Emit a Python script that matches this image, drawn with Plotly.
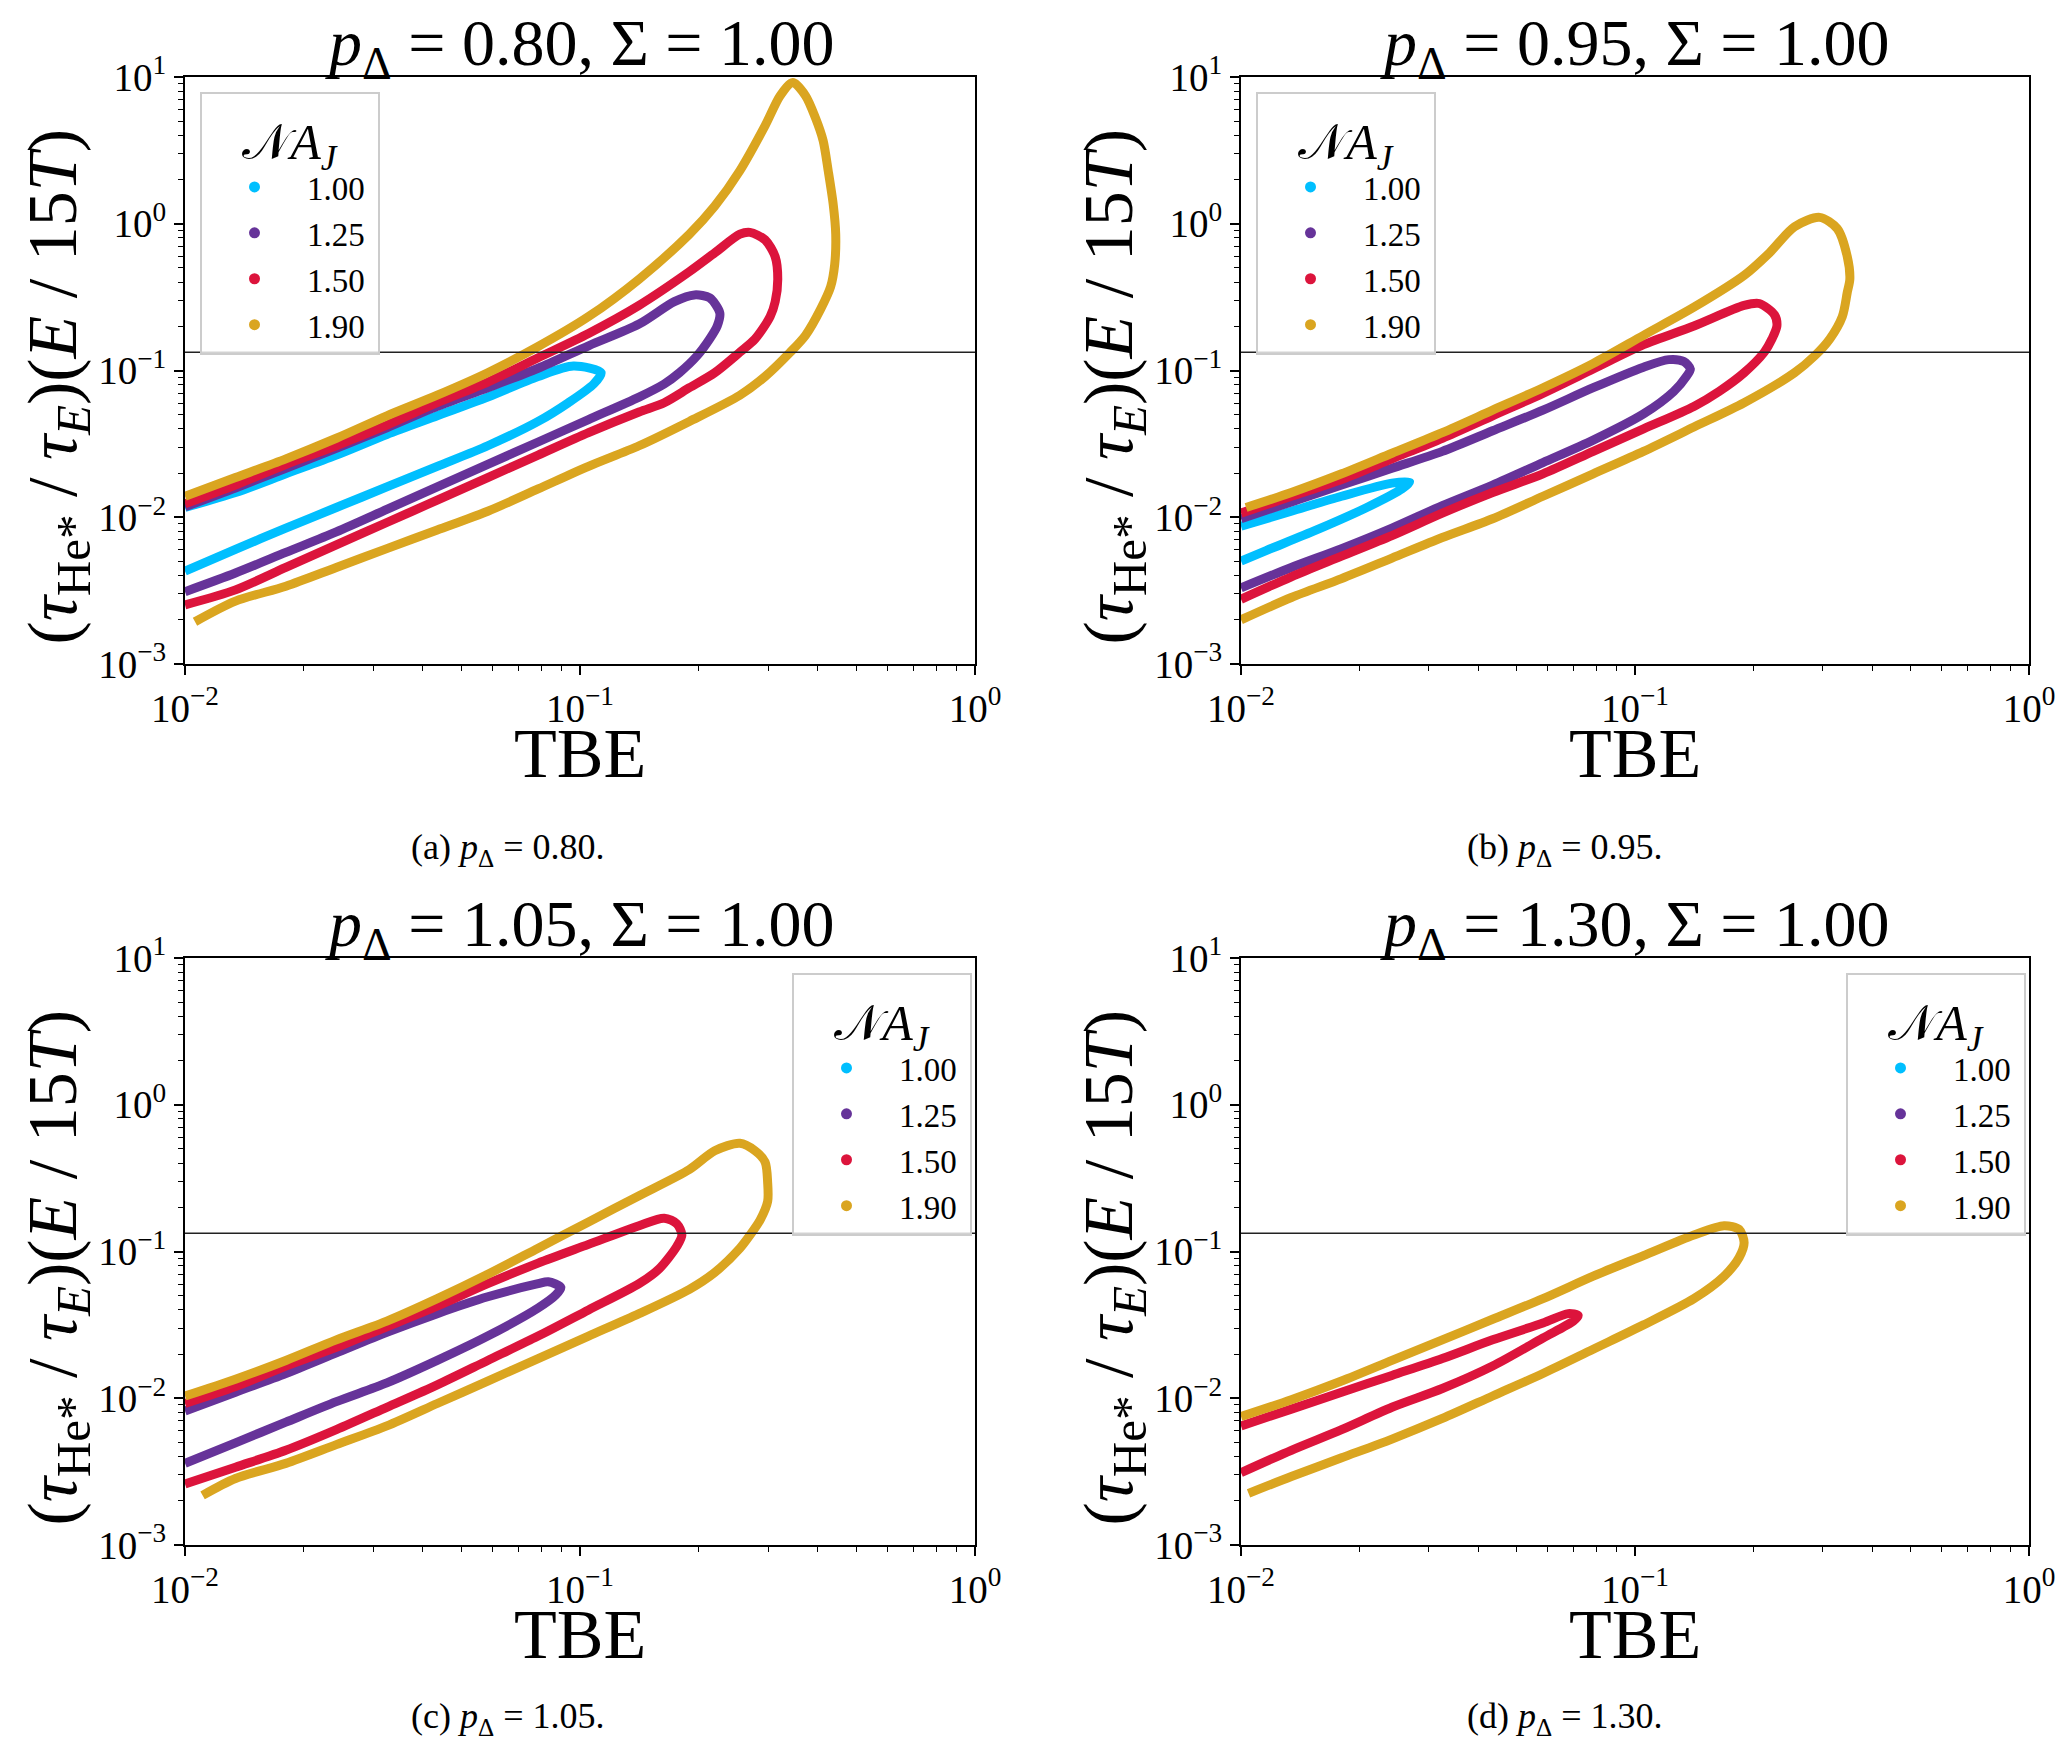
import plotly.graph_objects as go

# ---------------- data ----------------
NAJ_LABELS = ["1.00", "1.25", "1.50", "1.90"]
COLORS = ["#00BFFF", "#663399", "#DC143C", "#DAA520"]
P_DELTA = ["0.80", "0.95", "1.05", "1.30"]
PANEL_LETTERS = ["a", "b", "c", "d"]
HLINE_Y = 0.1333

# panel (a) p_delta = 0.80
a100_x = [0.0100, 0.01342, 0.0180, 0.02416, 0.03243, 0.04351, 0.0584, 0.07834, 0.09625, 0.1131,
          0.1083, 0.09346, 0.07834, 0.0584, 0.04351, 0.03243, 0.02416, 0.0180, 0.01342, 0.0100]
a100_y = [0.01165, 0.01474, 0.01977, 0.02652, 0.03663, 0.04913, 0.06590, 0.09103, 0.1073, 0.09654,
          0.08094, 0.06035, 0.04498, 0.03070, 0.02223, 0.01610, 0.01165, 0.00843, 0.00604, 0.00429]
a125_x = [0.0100, 0.01342, 0.0180, 0.02416, 0.03243, 0.04351, 0.0584, 0.07834, 0.1051, 0.1411, 0.1733,
          0.1949, 0.2129, 0.2259, 0.2226, 0.2129, 0.1978, 0.1785, 0.1634, 0.1411, 0.1051, 0.07834,
          0.0584, 0.04351, 0.03243, 0.02416, 0.0180, 0.01342, 0.0100]
a125_y = [0.01179, 0.01581, 0.02159, 0.02946, 0.04071, 0.05690, 0.07632, 0.1036, 0.1474, 0.2072, 0.2946,
          0.3275, 0.3126, 0.2471, 0.2012, 0.1638, 0.1258, 0.09654, 0.08094, 0.06590, 0.04633, 0.03257,
          0.02290, 0.01610, 0.01131, 0.00795, 0.00576, 0.00417, 0.00311]
a150_x = [0.0100, 0.01342, 0.0180, 0.02416, 0.03243, 0.04351, 0.0584, 0.07834, 0.1051, 0.1411, 0.1892,
          0.2193, 0.2540, 0.2694, 0.2942, 0.3120, 0.3167, 0.3120, 0.3030, 0.2774, 0.2540, 0.2193,
          0.1892, 0.1634, 0.1411, 0.1051, 0.07834, 0.0584, 0.04351, 0.03243, 0.02416, 0.0180,
          0.01342, 0.0100]
a150_y = [0.01235, 0.01658, 0.02290, 0.03070, 0.04242, 0.06035, 0.08336, 0.1221, 0.1789, 0.2779, 0.4715,
          0.6327, 0.8483, 0.8736, 0.7767, 0.5963, 0.4193, 0.2946, 0.2330, 0.1638, 0.1334, 0.09654,
          0.07632, 0.06035, 0.05211, 0.03772, 0.02652, 0.01864, 0.01310, 0.00921, 0.00648, 0.00455,
          0.00320, 0.00253]
a190_x = [0.0100, 0.01342, 0.0180, 0.02416, 0.03243, 0.04351, 0.0584, 0.07834, 0.1051, 0.1411, 0.1892,
          0.2193, 0.2540, 0.2942, 0.3213, 0.3458, 0.3723, 0.3948, 0.4126, 0.4249, 0.4375, 0.4440,
          0.4414, 0.4311, 0.4066, 0.3723, 0.3408, 0.2942, 0.2540, 0.1892, 0.1411, 0.1051, 0.07834,
          0.0584, 0.04351, 0.03243, 0.02416, 0.0180, 0.01342, 0.0106]
a190_y = [0.01390, 0.01864, 0.02500, 0.03454, 0.04913, 0.06786, 0.09654, 0.1457, 0.2330, 0.4193, 0.8483,
          1.318, 2.302, 4.661, 7.457, 9.157, 7.457, 5.242, 3.684, 2.302, 1.357, 0.8483,
          0.5303, 0.3727, 0.2620, 0.1737, 0.1334, 0.09103, 0.06786, 0.04498, 0.03070, 0.02223, 0.01560,
          0.01099, 0.00819, 0.00611, 0.00455, 0.00339, 0.00268, 0.00194]

# panel (b) p_delta = 0.95
b100_x = [0.0100, 0.01342, 0.0180, 0.02416, 0.02679, 0.02563, 0.02086, 0.01555, 0.01158, 0.0100]
b100_y = [0.00868, 0.01099, 0.01390, 0.01707, 0.01738, 0.01563, 0.01165, 0.00819, 0.00593, 0.00503]
b125_x = [0.0100, 0.01342, 0.0180, 0.02416, 0.03243, 0.04351, 0.0584, 0.07834, 0.1051, 0.1218, 0.1330,
          0.1382, 0.1350, 0.1254, 0.1051, 0.07834, 0.0584, 0.04351, 0.03243, 0.02416, 0.0180,
          0.01342, 0.0100]
b125_y = [0.00977, 0.01272, 0.01658, 0.02159, 0.02812, 0.03884, 0.05366, 0.07632, 0.1054, 0.1186, 0.1151,
          0.1024, 0.09103, 0.07197, 0.05060, 0.03354, 0.02358, 0.01658, 0.01200, 0.00843, 0.00611,
          0.00455, 0.00330]
b150_x = [0.0100, 0.01342, 0.0180, 0.02416, 0.03243, 0.04351, 0.0584, 0.07834, 0.1051, 0.1411, 0.1892,
          0.2067, 0.2259, 0.2292, 0.2226, 0.2129, 0.1892, 0.1634, 0.1411, 0.1051, 0.07834, 0.0584,
          0.04351, 0.03243, 0.02416, 0.0180, 0.01342, 0.0100]
b150_y = [0.01067, 0.01390, 0.01810, 0.02500, 0.03454, 0.04913, 0.06989, 0.1024, 0.1500, 0.2012, 0.2779,
          0.2861, 0.2399, 0.2012, 0.1638, 0.1334, 0.09654, 0.07197, 0.05690, 0.04000, 0.02812, 0.01977,
          0.01474, 0.01067, 0.00750, 0.00543, 0.00393, 0.00276]
b190_x = [0.0103, 0.01342, 0.0180, 0.02416, 0.03243, 0.04351, 0.0584, 0.07834, 0.1051, 0.1411, 0.1892,
          0.2193, 0.2540, 0.2942, 0.3261, 0.3458, 0.3510, 0.3458, 0.3358, 0.3120, 0.2857, 0.2540,
          0.1892, 0.1411, 0.1051, 0.07834, 0.0584, 0.04351, 0.03243, 0.02416, 0.0180, 0.01342, 0.0100]
b190_y = [0.01165, 0.01474, 0.01977, 0.02731, 0.03772, 0.05366, 0.07632, 0.1118, 0.1737, 0.2698, 0.4445,
          0.6327, 0.9541, 1.105, 0.9265, 0.5963, 0.4193, 0.3413, 0.2330, 0.1638, 0.1258, 0.09654,
          0.06035, 0.04119, 0.02812, 0.01977, 0.01390, 0.00977, 0.00728, 0.00527, 0.00382, 0.00284,
          0.00200]

# panel (c) p_delta = 1.05
c125_x = [0.0100, 0.01342, 0.0180, 0.02416, 0.03243, 0.04351, 0.0584, 0.07834, 0.0831, 0.08944,
          0.08685, 0.07834, 0.0584, 0.04351, 0.03243, 0.02416, 0.0180, 0.01342, 0.0100]
c125_y = [0.00819, 0.01099, 0.01474, 0.02036, 0.02812, 0.03772, 0.04913, 0.06035, 0.06214, 0.05690,
          0.05060, 0.04119, 0.02652, 0.01810, 0.01272, 0.00948, 0.00687, 0.00497, 0.00360]
c150_x = [0.0100, 0.01342, 0.0180, 0.02416, 0.03243, 0.04351, 0.0584, 0.07834, 0.1051, 0.1411, 0.1634,
          0.1759, 0.1811, 0.1759, 0.1587, 0.1411, 0.1051, 0.07834, 0.0584, 0.04351, 0.03243, 0.02416,
          0.0180, 0.01342, 0.0100]
c150_y = [0.00921, 0.01200, 0.01658, 0.02223, 0.03070, 0.04242, 0.06035, 0.08336, 0.1118, 0.1500, 0.1687,
          0.1544, 0.1295, 0.1086, 0.07632, 0.06035, 0.04000, 0.02652, 0.01810, 0.01235, 0.00868, 0.00611,
          0.00442, 0.00339, 0.00260]
c190_x = [0.0100, 0.01342, 0.0180, 0.02416, 0.03243, 0.04351, 0.0584, 0.07834, 0.1051, 0.1411, 0.1892,
          0.2193, 0.2540, 0.2774, 0.2942, 0.2986, 0.2986, 0.2857, 0.2694, 0.2540, 0.2193, 0.1892,
          0.1411, 0.1051, 0.07834, 0.0584, 0.04351, 0.03243, 0.02416, 0.0180, 0.01342, 0.01108]
c190_y = [0.01036, 0.01349, 0.01810, 0.02500, 0.03354, 0.04771, 0.06989, 0.1054, 0.1591, 0.2399, 0.3619,
          0.4856, 0.5461, 0.4856, 0.4071, 0.2946, 0.2197, 0.1638, 0.1295, 0.1054, 0.07197, 0.05526,
          0.03772, 0.02652, 0.01864, 0.01310, 0.00921, 0.00648, 0.00483, 0.00360, 0.00284, 0.00218]

# panel (d) p_delta = 1.30
d150_x = [0.0100, 0.01342, 0.0180, 0.02416, 0.03243, 0.04351, 0.0584, 0.06765, 0.07174,
          0.06966, 0.0584, 0.04351, 0.03243, 0.02416, 0.0180, 0.01342, 0.0100]
d150_y = [0.00648, 0.00843, 0.01099, 0.01431, 0.01864, 0.02500, 0.03257, 0.03772, 0.03663,
          0.03354, 0.02575, 0.01658, 0.01165, 0.00868, 0.00611, 0.00442, 0.00311]
d190_x = [0.0100, 0.01342, 0.0180, 0.02416, 0.03243, 0.04351, 0.0584, 0.07834, 0.1051, 0.1411, 0.1683,
          0.1838, 0.1892, 0.1838, 0.1683, 0.1411, 0.1051, 0.07834, 0.0584, 0.04351, 0.03243, 0.02416,
          0.0180, 0.01342, 0.01045]
d190_y = [0.00750, 0.00977, 0.01310, 0.01810, 0.02500, 0.03454, 0.04771, 0.06786, 0.09375, 0.1295, 0.1500,
          0.1414, 0.1151, 0.09103, 0.06786, 0.04771, 0.03162, 0.02159, 0.01474, 0.01036, 0.00728, 0.00527,
          0.00393, 0.00293, 0.00225]

PANELS = [
    {0: (a100_x, a100_y), 1: (a125_x, a125_y), 2: (a150_x, a150_y), 3: (a190_x, a190_y)},
    {0: (b100_x, b100_y), 1: (b125_x, b125_y), 2: (b150_x, b150_y), 3: (b190_x, b190_y)},
    {1: (c125_x, c125_y), 2: (c150_x, c150_y), 3: (c190_x, c190_y)},
    {2: (d150_x, d150_y), 3: (d190_x, d190_y)},
]

X_TICKS = [0.01, 0.1, 1]
X_TICKTEXT = ["10<sup>−2</sup>", "10<sup>−1</sup>", "10<sup>0</sup>"]
Y_TICKS = [0.001, 0.01, 0.1, 1, 10]
Y_TICKTEXT = ["10<sup>−3</sup>", "10<sup>−2</sup>", "10<sup>−1</sup>", "10<sup>0</sup>", "10<sup>1</sup>"]

# ---------------- layout geometry ----------------
W, H = 2071, 1743
FONT = "Liberation Serif"
# plot boxes in pixels: (left, right, top, bottom)
BOXES = [(185, 975, 77, 664), (1241, 2029, 77, 664), (185, 975, 958, 1545), (1241, 2029, 958, 1545)]
LEGEND_POS = [(200, 92, "left"), (1256, 92, "left"), (972, 973, "right"), (2026, 973, "right")]
PAD = "\u00a0"

def px(x):
    return x / W

def py(y):
    return 1 - y / H

fig = go.Figure()
minor_x = [k * 10 ** e for e in (-2, -1) for k in range(2, 10)]
minor_y = [k * 10 ** e for e in (-3, -2, -1, 0) for k in range(2, 10)]

annotations = []
layout_extra = {}
for i, curves in enumerate(PANELS):
    n = i + 1
    xa = "x" if n == 1 else f"x{n}"
    ya = "y" if n == 1 else f"y{n}"
    leg = "legend" if n == 1 else f"legend{n}"
    l, r, t, b = BOXES[i]
    layout_extra[f"xaxis{'' if n == 1 else n}"] = dict(
        type="log", range=[-2, 0], domain=[px(l), px(r)], anchor=ya, automargin=False,
        showline=True, mirror=True, linecolor="black", linewidth=2,
        ticks="outside", ticklen=9, tickwidth=1.6, tickcolor="black",
        tickmode="array", tickvals=X_TICKS, ticktext=X_TICKTEXT,
        tickfont=dict(family=FONT, size=39, color="black"),
        showgrid=False, zeroline=False,
        minor=dict(tickmode="array", tickvals=minor_x, ticks="outside", ticklen=5,
                   tickwidth=1.2, tickcolor="black", showgrid=False),
    )
    layout_extra[f"yaxis{'' if n == 1 else n}"] = dict(
        type="log", range=[-3, 1], domain=[py(b), py(t)], anchor=xa, automargin=False,
        showline=True, mirror=True, linecolor="black", linewidth=2,
        ticks="outside", ticklen=9, tickwidth=1.6, tickcolor="black",
        tickmode="array", tickvals=Y_TICKS, ticktext=Y_TICKTEXT,
        tickfont=dict(family=FONT, size=39, color="black"),
        showgrid=False, zeroline=False,
        minor=dict(tickmode="array", tickvals=minor_y, ticks="outside", ticklen=5,
                   tickwidth=1.2, tickcolor="black", showgrid=False),
    )
    # curves
    for k, (cx, cy) in curves.items():
        fig.add_trace(go.Scatter(
            x=cx, y=cy, mode="lines", line=dict(color=COLORS[k], width=9, shape="spline", smoothing=0.8),
            xaxis=xa, yaxis=ya, showlegend=False, hoverinfo="skip"))
    # threshold line
    fig.add_trace(go.Scatter(x=[0.01, 1], y=[HLINE_Y, HLINE_Y], mode="lines",
                             line=dict(color="#222222", width=1.6), xaxis=xa, yaxis=ya,
                             showlegend=False, hoverinfo="skip"))
    # legend entries
    for k, lab in enumerate(NAJ_LABELS):
        fig.add_trace(go.Scatter(x=[None], y=[None], mode="markers", name=lab + PAD,
                                 marker=dict(color=COLORS[k], size=11),
                                 xaxis=xa, yaxis=ya, legend=leg, showlegend=True))
    lx, ly, anch = LEGEND_POS[i]
    layout_extra[leg] = dict(
        x=px(lx), y=py(ly), xanchor=anch, yanchor="top",
        bgcolor="rgba(255,255,255,0.8)", bordercolor="#cccccc", borderwidth=2,
        font=dict(family=FONT, size=33, color="black"),
        title=dict(text="𝒩<i>A</i><sub><i>J</i></sub>", font=dict(family=FONT, size=50, color="black"),
                   side="top center"),
        itemwidth=95, tracegroupgap=0,
    )
    cx_mid = (l + r) / 2
    # panel title
    annotations.append(dict(
        text=f"<i>p</i><sub>Δ</sub> = {P_DELTA[i]}, Σ = 1.00", x=px(cx_mid), y=py(t - 30),
        xref="paper", yref="paper", xanchor="center", yanchor="middle", showarrow=False,
        font=dict(family=FONT, size=66, color="black")))
    # x axis title
    annotations.append(dict(
        text="TBE", x=px(cx_mid), y=py(b + 89), xref="paper", yref="paper",
        xanchor="center", yanchor="middle", showarrow=False,
        font=dict(family=FONT, size=70, color="black")))
    # y axis title
    annotations.append(dict(
        text="(<i>τ</i><sub>He*</sub> / <i>τ</i><sub><i>E</i></sub>)(<i>E</i> / 15<i>T</i>)",
        x=px(l - 128), y=py((t + b) / 2 + 16), xref="paper", yref="paper", textangle=-90,
        xanchor="center", yanchor="middle", showarrow=False,
        font=dict(family=FONT, size=70, color="black")))
    # caption
    cap_x = 507 if i % 2 == 0 else 1565
    cap_y = 849 if i < 2 else 1718
    annotations.append(dict(
        text=f"({PANEL_LETTERS[i]}) <i>p</i><sub>Δ</sub> = {P_DELTA[i]}.", x=px(cap_x), y=py(cap_y),
        xref="paper", yref="paper", xanchor="center", yanchor="middle", showarrow=False,
        font=dict(family=FONT, size=36, color="black")))

fig.update_layout(
    width=W, height=H, margin=dict(l=0, r=0, t=0, b=0, autoexpand=False),
    paper_bgcolor="white", plot_bgcolor="white",
    annotations=annotations, **layout_extra,
)

fig.write_html("out.html")
